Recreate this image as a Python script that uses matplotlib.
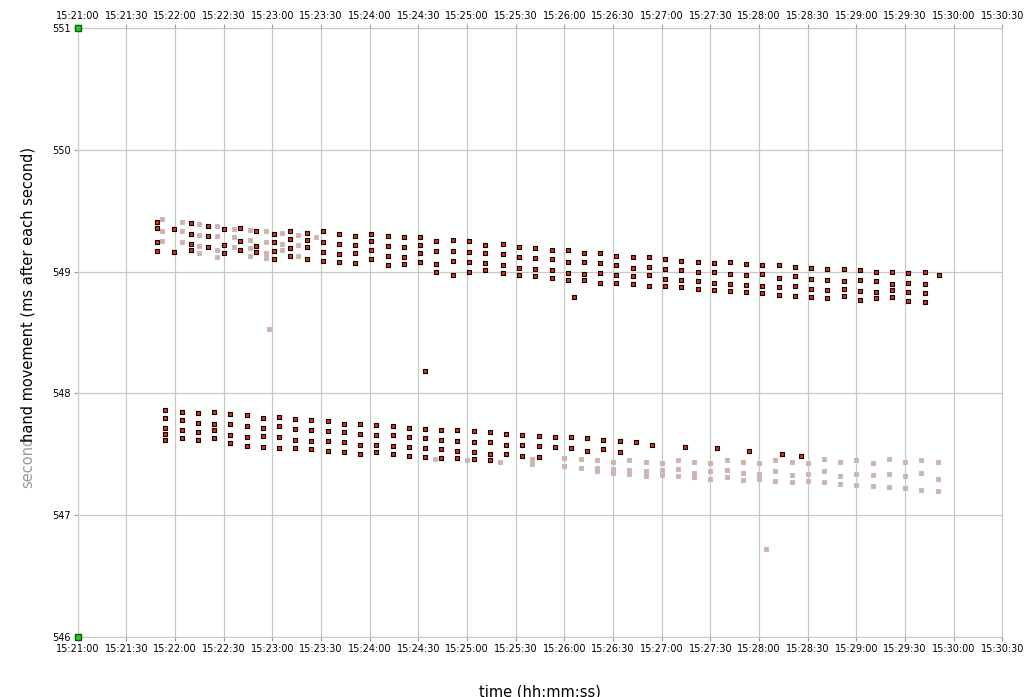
import matplotlib
matplotlib.use("Agg")
import matplotlib.pyplot as plt
from matplotlib.ticker import FixedLocator

# seconds after 15:21:00 ; values in ms after each second
up_red_t = [49,59,70,80,90,100,110,121,131,141,151,161,171,181,191,201,211,221,231,241,251,262,272,282,292,302,312,322,332,342,352,362,372,382,392,402,412,422,432,442,452,462,472,482,492,502,512,522,531]
up_red_v = [
 [549.41,549.36,549.24,549.17],[549.35,549.16],[549.40,549.31,549.23,549.18],[549.37,549.29,549.20],
 [549.35,549.22,549.15],[549.36,549.25,549.18],[549.33,549.21,549.16],[549.31,549.24,549.17,549.10],
 [549.33,549.27,549.19,549.13],[549.32,549.26,549.20,549.10],[549.33,549.24,549.16,549.09],
 [549.31,549.23,549.14,549.08],[549.29,549.22,549.15,549.07],[549.31,549.25,549.18,549.10],
 [549.29,549.21,549.13,549.05],[549.28,549.20,549.12,549.06],[549.28,549.22,549.15,549.08],
 [549.25,549.17,549.06,549.00],[549.26,549.17,549.09,548.97],[549.25,549.16,549.08,549.00],
 [549.22,549.15,549.07,549.01],[549.23,549.14,549.05,548.99],[549.20,549.12,549.03,548.97],
 [549.19,549.11,549.02,548.96],[549.18,549.10,549.01,548.95],[549.18,549.08,548.99,548.93],
 [549.15,549.08,548.98,548.93],[549.15,549.07,548.99,548.91],[549.13,549.05,548.97,548.91],
 [549.12,549.03,548.96,548.90],[549.12,549.04,548.97,548.88],[549.10,549.02,548.94,548.88],
 [549.09,549.01,548.93,548.87],[549.08,549.00,548.92,548.86],[549.07,549.00,548.91,548.85],
 [549.08,548.98,548.90,548.84],[549.06,548.97,548.89,548.83],[549.05,548.98,548.88,548.82],
 [549.05,548.95,548.87,548.81],[549.04,548.96,548.88,548.80],[549.03,548.94,548.86,548.79],
 [549.02,548.93,548.85,548.78],[549.02,548.92,548.86,548.80],[549.01,548.93,548.84,548.77],
 [549.00,548.92,548.83,548.78],[549.00,548.90,548.85,548.79],[548.99,548.91,548.83,548.76],
 [549.00,548.90,548.82,548.75],[548.97]]
up_pale_t = [52,64,75,86,96,106,116,126,136,147]
up_pale_v = [[549.43,549.33,549.25],[549.41,549.33,549.24],[549.39,549.30,549.21,549.15],
 [549.37,549.29,549.18,549.12],[549.35,549.28,549.20],[549.34,549.26,549.19,549.13],
 [549.33,549.24,549.15,549.11],[549.32,549.23,549.18],[549.30,549.22,549.13],[549.28]]

lo_red_t = [54,64,74,84,94,104,114,124,134,144,154,164,174,184,194,204,214,224,234,244,254,264,274,284,294,304,314,324,334,344,354,374,394,414,434,446]
lo_red_v = [
 [547.86,547.80,547.72,547.67,547.62],[547.85,547.78,547.70,547.63],[547.84,547.76,547.68,547.62],
 [547.85,547.75,547.70,547.63],[547.83,547.75,547.66,547.59],[547.82,547.73,547.64,547.57],
 [547.80,547.72,547.65,547.56],[547.81,547.73,547.64,547.55],[547.79,547.71,547.62,547.55],
 [547.78,547.70,547.61,547.54],[547.77,547.69,547.61,547.53],[547.75,547.68,547.60,547.52],
 [547.75,547.67,547.58,547.50],[547.74,547.66,547.58,547.52],[547.73,547.66,547.57,547.50],
 [547.72,547.64,547.56,547.49],[547.71,547.63,547.55,547.48],[547.70,547.62,547.54,547.47],
 [547.70,547.61,547.53,547.47],[547.69,547.60,547.52,547.46],[547.68,547.60,547.50,547.45],
 [547.67,547.58,547.50],[547.66,547.58,547.49],[547.65,547.57,547.48],[547.64,547.56],
 [547.64,547.55],[547.63,547.53],[547.62,547.54],[547.61,547.52],[547.60],[547.58],
 [547.56],[547.55],[547.53],[547.50],[547.49]]
lo_pale_t = [220,240,260,280,300,310,320,330,340,350,360,370,380,390,400,410,420,430,440,450,460,470,480,490,500,510,520,530]
lo_pale_v = [[547.46],[547.45],[547.44],[547.46,547.42],[547.47,547.40],[547.46,547.39],
 [547.45,547.39,547.36],[547.44,547.38,547.35],[547.45,547.37,547.34],[547.44,547.36,547.32],
 [547.43,547.37,547.33],[547.45,547.38,547.32],[547.44,547.35,547.31],[547.43,547.36,547.30],
 [547.45,547.37,547.31],[547.44,547.35,547.29],[547.43,547.34,547.30],[547.45,547.36,547.28],
 [547.44,547.33,547.27],[547.43,547.34,547.28],[547.46,547.36,547.27],[547.44,547.32,547.26],
 [547.45,547.34,547.25],[547.43,547.33,547.24],[547.46,547.34,547.23],[547.44,547.32,547.22],
 [547.45,547.35,547.21],[547.44,547.30,547.20]]
out_red = [(214, 548.18), (306, 548.79)]
out_pale = [(118, 548.53), (424, 546.72)]
anchors = [(0, 551), (0, 546)]

x_ticks = list(range(0, 571, 30))
x_labels = ["15:%02d:%02d" % (21 + s // 60, s % 60) for s in x_ticks]

def flat(ts, vs):
    xs, ys = [], []
    for t, v in zip(ts, vs):
        xs += [t] * len(v); ys += v
    return xs, ys

fig = plt.figure(figsize=(10.24, 6.97), dpi=100)
ax = fig.add_axes([0.076, 0.086, 0.903, 0.874])
ax.set_xlim(0, 570); ax.set_ylim(546, 551)
kw = dict(marker='s', s=7, linewidths=0.8, zorder=3)
for ts, vs in [(up_pale_t, up_pale_v), (lo_pale_t, lo_pale_v)]:
    x, y = flat(ts, vs)
    ax.scatter(x, y, c='#e8a8a0', edgecolors='#c0c0c0', **kw)
ax.scatter(*zip(*out_pale), c='#e8a8a0', edgecolors='#c0c0c0', **kw)
for ts, vs in [(up_red_t, up_red_v), (lo_red_t, lo_red_v)]:
    x, y = flat(ts, vs)
    ax.scatter(x, y, c='#ee2a10', edgecolors='black', **kw)
ax.scatter(*zip(*out_red), c='#ee2a10', edgecolors='black', **kw)
ax.scatter(*zip(*anchors), c='#22cc22', edgecolors='#006600', marker='s', s=14, zorder=4, clip_on=False)

ax.xaxis.set_major_locator(FixedLocator(x_ticks))
ax.set_xticklabels(x_labels, fontsize=7)
ax.set_yticks([546, 547, 548, 549, 550, 551])
ax.set_yticklabels(['546', '547', '548', '549', '550', '551'], fontsize=7)
ax.tick_params(top=True, labeltop=True, length=3, color='#999999', pad=2)
ax.grid(True, color='#c8c8c8', linewidth=0.9)
for sp in ax.spines.values():
    sp.set_color('#c8c8c8')
ax.set_xlabel('time (hh:mm:ss)', fontsize=10.5, labelpad=22)
fig.text(0.027, 0.337, 'second', rotation=90, color='#999999', fontsize=10.5, ha='center', va='center')
fig.text(0.027, 0.577, 'hand movement (ms after each second)', rotation=90, color='black', fontsize=10.5, ha='center', va='center')
fig.savefig('out.png', dpi=100)
